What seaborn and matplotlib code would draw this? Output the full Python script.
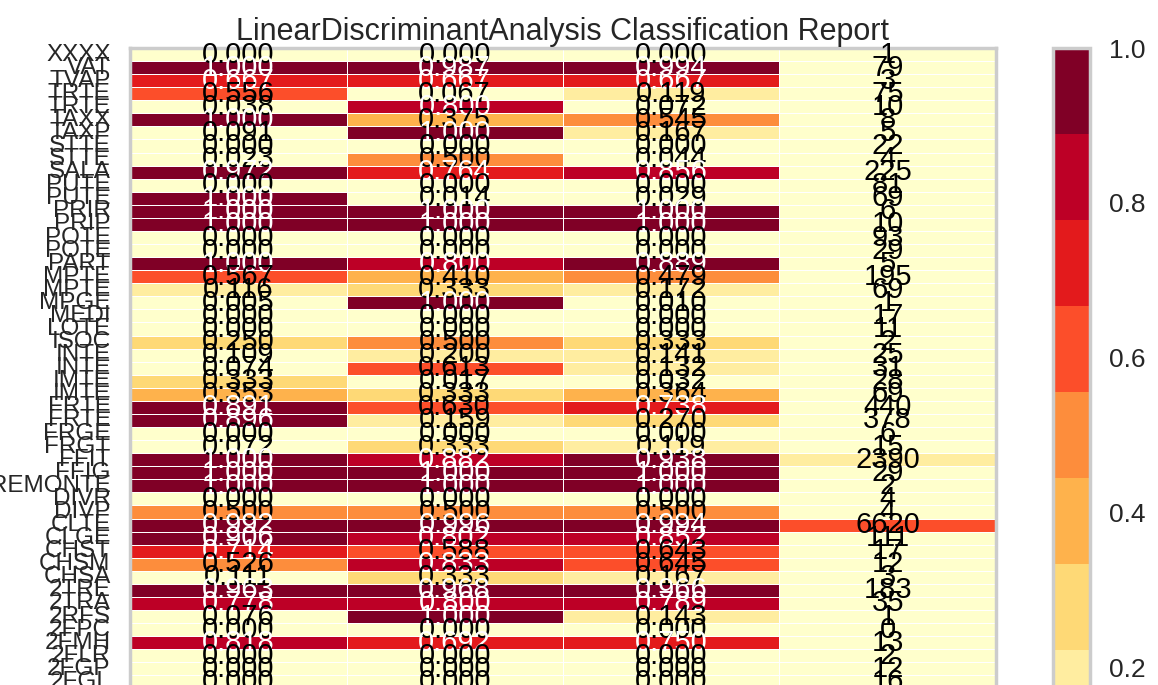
import numpy as np
import pandas as pd
import matplotlib
matplotlib.use("Agg")
import matplotlib.pyplot as plt
import seaborn as sns
from matplotlib.colors import ListedColormap

classes = ["XXXX","VAT","TVAP","TRTE","TRTE","TAXX","TAXP","STTE","STTE","SALA",
           "PUTE","PUTE","PRIR","PRIP","POTE","POTE","PART","MPTE","MPTE","MPGE",
           "MEDI","LOTE","ISOC","INTE","INTE","IMTE","IMTE","FRTE","FRTE","FRGE",
           "FRGT","FFIT","FFIG","FREMONTE","DIVR","DIVP","CLTE","CLGE","CHST","CHSM",
           "CHSA","2TRE","2TRA","2RFS","2FPC","2FMH","2FLR","2FGP","2FGL"]
precision = [0.000,1.000,0.667,0.556,0.038,1.000,0.091,0.000,0.023,0.972,
             0.000,1.000,1.000,1.000,0.000,0.000,1.000,0.567,0.116,0.005,
             0.000,0.000,0.250,0.109,0.074,0.333,0.353,0.891,0.896,0.000,
             0.072,1.000,1.000,1.000,0.000,0.500,0.992,0.906,0.714,0.526,
             0.111,0.963,0.778,0.076,0.000,0.818,0.000,0.000,0.000]
recall = [0.000,0.987,0.667,0.067,0.800,0.375,1.000,0.000,0.500,0.764,
          0.000,0.014,1.000,1.000,0.000,0.000,0.800,0.410,0.333,1.000,
          0.000,0.000,0.500,0.200,0.613,0.017,0.333,0.630,0.159,0.000,
          0.333,0.882,1.000,1.000,0.000,0.500,0.996,0.802,0.588,0.833,
          0.333,0.968,0.800,1.000,0.000,0.692,0.000,0.000,0.000]
f1 = [0.000,0.994,0.667,0.119,0.072,0.545,0.167,0.000,0.044,0.856,
      0.000,0.029,1.000,1.000,0.000,0.000,0.889,0.479,0.172,0.010,
      0.000,0.000,0.333,0.141,0.132,0.032,0.364,0.738,0.270,0.000,
      0.119,0.938,1.000,1.000,0.000,0.500,0.994,0.852,0.643,0.645,
      0.167,0.966,0.789,0.143,0.000,0.750,0.000,0.000,0.000]
support = [1,79,3,75,10,8,5,22,4,225,
           81,69,6,10,93,29,5,195,69,1,
           17,11,2,25,31,28,69,440,378,6,
           15,2390,29,2,4,4,6620,111,17,12,
           3,183,35,1,0,13,2,12,16]
columns = ["precision","recall","f1","support"]

ylorrd = ["#ffffcc","#ffeda0","#fed976","#feb24c","#fd8d3c",
          "#fc4e2a","#e31a1c","#bd0026","#800026"]
cmap = ListedColormap(ylorrd)

sup = np.array(support, float)
colors = np.column_stack([precision, recall, f1, sup / sup.sum()])
df = pd.DataFrame(colors, index=classes, columns=columns)

sns.set_style("whitegrid")
plt.rcParams["font.family"] = ["Liberation Sans", "DejaVu Sans"]

fig = plt.figure(figsize=(11.58, 6.85), dpi=100)
W, H = 1158, 685
n = len(classes)
rowh = 13.07
top_px, left_px, right_px = 48, 130, 996
bot_px = top_px + n * rowh
ax = fig.add_axes([left_px / W, 1 - bot_px / H, (right_px - left_px) / W, (bot_px - top_px) / H])
cax = fig.add_axes([1053 / W, 1 - 822 / H, 37 / W, 774 / H])

sns.heatmap(df, ax=ax, cmap=cmap, vmin=0, vmax=1, linewidths=0.6, linecolor="white",
            cbar=True, cbar_ax=cax, xticklabels=False)

vals = [precision, recall, f1]
for i in range(n):
    for j in range(3):
        v = vals[j][i]
        ax.text(j + 0.5, i + 0.5, f"{v:.3f}", ha="center", va="center",
                fontsize=21, color="white" if v >= 0.65 else "black")
    ax.text(3.5, i + 0.5, f"{support[i]}", ha="center", va="center", fontsize=21, color="black")

ax.set_yticks(np.arange(n) + 0.5)
ax.set_yticklabels(classes, rotation=0, fontsize=17.5, color="#262626")
ax.tick_params(axis="y", length=0, pad=14)
ax.set_ylabel("")
ax.set_title("LinearDiscriminantAnalysis Classification Report", fontsize=22, color="#262626", pad=6)
for s in ax.spines.values():
    s.set_visible(True)
    s.set_color("#cccccc")
    s.set_linewidth(2.5)

cb = ax.collections[0].colorbar
cb.set_ticks([0.2, 0.4, 0.6, 0.8, 1.0])
cb.ax.tick_params(labelsize=19, length=0, pad=14, labelcolor="#262626")
cb.outline.set_edgecolor("#cccccc")
cb.outline.set_linewidth(2.5)

fig.savefig("out.png", dpi=100)
